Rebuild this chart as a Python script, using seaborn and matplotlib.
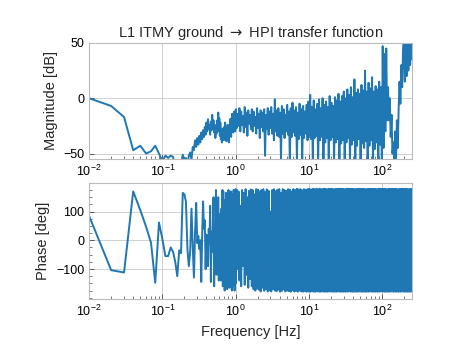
import numpy as np
import matplotlib
matplotlib.use("Agg")
import matplotlib.pyplot as plt
from matplotlib.ticker import AutoMinorLocator, LogLocator
import seaborn as sns

# frequency grids [Hz]
freq_low = np.round(np.arange(1, 101) * 0.01, 2)          # 0.01 .. 1.00 Hz
freq_high = np.geomspace(1.01, 256, 200)                 # 1 .. 256 Hz

# magnitude [dB], 0.01 .. 1.00 Hz
mag_low = [
    0, -7, -17, -47, -43, -50, -48, -43, -50, -57,
    -52, -54, -52, -53, -62, -66, -63, -60, -51, -58,
    -54, -60, -52, -49, -56, -44, -47, -38, -44, -36,
    -42, -34, -40, -31, -37, -29, -35, -26, -33, -22,
    -30, -19, -28, -24, -33, -21, -29, -15, -27, -20,
    -31, -24, -36, -25, -32, -20, -30, -13, -26, -18,
    -34, -22, -37, -28, -40, -30, -36, -27, -38, -26,
    -35, -22, -33, -29, -39, -27, -34, -24, -36, -28,
    -40, -25, -33, -19, -30, -22, -35, -18, -29, -14,
    -27, -20, -31, -16, -28, -12, -25, -18, -30, -15,
]

# magnitude [dB], 1 .. 256 Hz
mag_high = [
    -10, -27, -14, -25, -9, -30, -12, -24, -16, -31,
    -8, -26, -13, -34, -11, -23, -15, -28, -10, -30,
    -12, -25, -17, -32, -9, -27, -14, -36, -11, -26,
    -13, -30, -10, -52, -15, -28, -9, -33, -12, -27,
    -8, -32, -14, -38, -1, -30, -11, -34, -9, -35,
    -13, -55, -7, -32, -10, -36, -15, -30, -6, -33,
    -12, -58, -9, -35, -4, -31, -11, -34, -8, -56,
    -13, -37, -5, -33, -10, -60, -7, -36, -12, -32,
    -6, -38, -3, -35, 3, -37, -8, -58, -2, -36,
    -10, -34, -5, -60, -1, -38, -9, -35, 0, -57,
    -6, -40, -3, -36, -8, -60, 2, -38, -4, -35,
    -7, -59, 1, -40, -2, -37, 4, -60, -3, -41,
    2, -38, 6, -61, 0, -40, 8, -36, 3, -58,
    10, -42, 1, -38, 17, -60, 5, -43, 8, -37,
    4, -62, 12, -41, 7, -45, 25, -39, 6, -61,
    14, -43, 9, -38, 19, -60, 6, -46, 11, -40,
    8, -58, 15, -42, 10, -62, 47, -45, 40, -30,
    45, -20, 10, -20, 0, -35, -15, -50, -40, -60,
    -30, -58, -20, -45, -10, 15, -5, 30, 10, 45,
    55, 15, 60, 20, 58, 25, 60, 30, 62, 35,
]

# phase [deg], 0.01 .. 1.00 Hz
phase_low = [
    85, -104, -112, 170, 105, 47, -8, -148, 62, 5,
    -55, -55, -25, -40, -75, -125, -35, -45, 165, 160,
    135, -30, -90, -40, 110, -20, -130, 30, 130, -10,
    15, -30, 0, -145, 20, 135, 40, 70, -100, 20,
    -20, -90, 40, -10, 120, -145, 30, -40, 60, 150,
    -160, 10, -60, 175, -120, 70, -80, 150, -140, 90,
    -70, 30, -140, 110, -90, 175, -160, 170, -60, 140,
    -175, 60, -120, 165, -30, 150, -170, 100, -140, 175,
    -90, 130, -165, 20, -150, 170, -110, 140, -175, 80,
    -130, 160, -60, 175, -160, 120, -175, 165, -100, 178,
]

# phase [deg], 1 .. 256 Hz
phase_high = [
    -150, 176, -100, 170, -140, 120, -160, 175, -90, 165,
    -155, 178, -120, 150, -165, 172, -135, 177, -160, 175,
    -170, 160, -175, 178, -168, 176, -172, 170, -178, 175,
    -165, 178, -176, 168, -170, 177, -178, 172, -174, 100,
    -178, 175, -169, 178, -175, 171, -177, 176, -172, 178,
    -179, 165, -176, 178, -171, 175, -178, 172, -175, 178,
    -177, 176, -179, 170, -174, 178, -178, 175, -176, 179,
    -179, 177, -175, 178, -178, 174, -179, 178, -177, 176,
    -179, 178, -178, 179, -179, 177, -178, 179, -179, 178,
    -179, 179, -178, 178, -179, 179, -179, 178, -178, 179,
    -179, 179, -179, 178, -179, 179, -178, 179, -179, 179,
    -179, 178, -179, 179, -179, 179, -178, 179, -179, 179,
    -179, 179, -179, 178, -179, 179, -179, 179, -178, 179,
    -179, 179, -179, 179, -179, 178, -179, 179, -179, 179,
    -178, 179, -179, 179, -179, 179, -179, 178, -179, 179,
    -179, 179, -178, 179, -179, 179, -179, 179, -179, 178,
    -179, 179, -179, 179, -178, 179, -179, 179, -179, 179,
    -179, 178, -179, 179, -179, 179, -178, 179, -179, 179,
    -179, 179, -179, 178, -179, 179, -179, 179, -178, 179,
    -179, 179, -179, 179, -179, 178, -179, 179, -179, 179,
]

freq = np.concatenate([freq_low, freq_high])
mag = np.array(mag_low + mag_high, dtype=float)
phase = np.array(phase_low + phase_high, dtype=float)

sns.set_style("whitegrid", {
    "grid.color": "#d0d0d0",
    "axes.edgecolor": "#bbbbbb",
    "xtick.bottom": True,
    "ytick.left": True,
})
plt.rcParams["font.family"] = ["Liberation Sans", "DejaVu Sans"]
plt.rcParams["axes.unicode_minus"] = True
plt.rcParams["xtick.direction"] = "in"
plt.rcParams["ytick.direction"] = "in"
plt.rcParams["xtick.color"] = "#444444"
plt.rcParams["ytick.color"] = "#444444"
plt.rcParams["xtick.labelcolor"] = "black"
plt.rcParams["ytick.labelcolor"] = "black"

fig = plt.figure(figsize=(4.74, 3.55), dpi=100)
ax_mag = fig.add_axes([0.188, 0.552, 0.681, 0.327])
ax_ph = fig.add_axes([0.188, 0.158, 0.681, 0.327])

color = "#1f77b4"
sns.lineplot(x=freq, y=mag, ax=ax_mag, color=color, lw=1.4, estimator=None, sort=False)
sns.lineplot(x=freq, y=phase, ax=ax_ph, color=color, lw=1.4, estimator=None, sort=False)

for ax in (ax_mag, ax_ph):
    ax.set_xscale("log")
    ax.set_xlim(0.01, 256)
    ax.xaxis.set_major_locator(LogLocator(base=10, numticks=10))
    ax.xaxis.set_minor_locator(LogLocator(base=10, subs=np.arange(2, 10), numticks=10))
    ax.tick_params(axis="both", which="major", labelsize=9, length=3.5, width=0.6)
    ax.tick_params(axis="both", which="minor", length=2, width=0.5)
    ax.grid(True, which="major", lw=0.7)
    for s in ax.spines.values():
        s.set_linewidth(0.8)

ax_mag.set_ylim(-55, 50)
ax_mag.set_yticks([-50, 0, 50])
ax_mag.set_ylabel("Magnitude [dB]", fontsize=10.5)
ax_mag.set_title("L1 ITMY ground $\\rightarrow$ HPI transfer function", fontsize=10.5, pad=4)

ax_ph.set_ylim(-204, 200)
ax_ph.set_yticks([-100, 0, 100])
ax_ph.yaxis.set_minor_locator(AutoMinorLocator(4))
ax_ph.set_ylabel("Phase [deg]", fontsize=10.5)
ax_ph.set_xlabel("Frequency [Hz]", fontsize=10.5)

fig.savefig("out.png", dpi=100)
plt.close(fig)
